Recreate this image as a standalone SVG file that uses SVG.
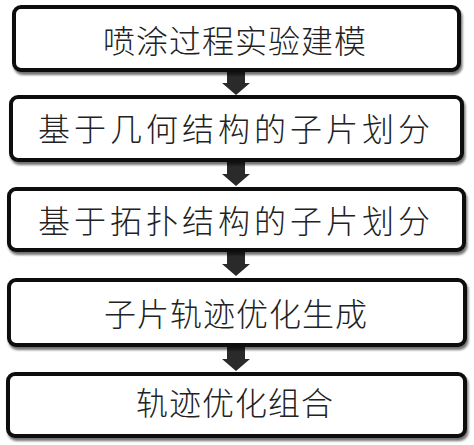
<svg xmlns="http://www.w3.org/2000/svg" width="474" height="445" viewBox="0 0 474 445">
<defs>
<filter id="sh" x="-5%" y="-20%" width="110%" height="140%">
<feDropShadow dx="1.5" dy="3" stdDeviation="1.2" flood-color="#000" flood-opacity="0.55"/>
</filter>
<path id="arr" d="M-9,0 H9 V13 H14 L0,25 L-14,13 H-9 Z"/>
</defs>
<style>
.box{fill:#fff;stroke:#111;stroke-width:4;filter:url(#sh)}
.lbl{font-family:"Noto Sans CJK SC","Noto Sans",sans-serif;font-size:32px;font-weight:300;fill:#222;text-anchor:middle;dominant-baseline:central}
.a{fill:#2a2a2a}
</style>
<rect width="474" height="445" fill="#fff"/>
<g id="connectors">
<use href="#arr" class="a" x="236" y="70"/>
<use href="#arr" class="a" x="236" y="161"/>
<use href="#arr" class="a" x="236" y="251"/>
<use href="#arr" class="a" x="236" y="346"/>
</g>
<g id="n1">
<rect class="box" x="14" y="7" width="445" height="63" rx="7"/>
<text class="lbl" x="235" y="39" letter-spacing="1">喷涂过程实验建模</text>
</g>
<g id="n2">
<rect class="box" x="11" y="97" width="451" height="63" rx="7"/>
<text class="lbl" x="236" y="127" letter-spacing="4">基于几何结构的子片划分</text>
</g>
<g id="n3">
<rect class="box" x="9" y="189" width="455" height="61" rx="7"/>
<text class="lbl" x="236" y="219" letter-spacing="4">基于拓扑结构的子片划分</text>
</g>
<g id="n4">
<rect class="box" x="9" y="280" width="456" height="65" rx="7"/>
<text class="lbl" x="236" y="312" letter-spacing="1">子片轨迹优化生成</text>
</g>
<g id="n5">
<rect class="box" x="8" y="374" width="457" height="62" rx="7"/>
<text class="lbl" x="235" y="401" letter-spacing="1">轨迹优化组合</text>
</g>
</svg>
